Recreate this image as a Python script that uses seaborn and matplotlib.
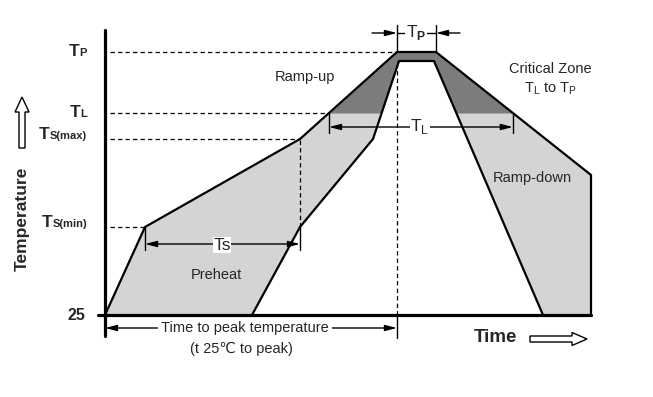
import numpy as np
import matplotlib
matplotlib.use("Agg")
import matplotlib.pyplot as plt
import seaborn as sns

# reflow profile outline (time and temperature in drawing units)
outer_time = [0, 40, 195, 292, 331, 486, 486]
outer_temp = [25, 113, 201, 288, 288, 165, 25]
inner_time = [147, 195, 268, 294, 329, 438]
inner_temp = [25, 113, 201, 279, 279, 25]

# temperature levels on the axis
T25, TS_MIN, TS_MAX, TL, TP = 25, 113, 201, 227, 288
level_subs = ['P', 'L', 'S(max)', 'S(min)']
level_temps = [TP, TL, TS_MAX, TS_MIN]
label_base = [284, 223, 201, 113]

sns.set_style("white")
plt.rcParams['font.family'] = ['Liberation Sans', 'DejaVu Sans']
plt.rcParams['mathtext.fontset'] = 'custom'
plt.rcParams['mathtext.rm'] = 'Liberation Sans'
plt.rcParams['mathtext.bf'] = 'Liberation Sans:bold'

fig = plt.figure(figsize=(6.53, 3.97), dpi=100)
ax = fig.add_axes([0, 0, 1, 1])
ax.set_xlim(-105, 548)
ax.set_ylim(-57, 340)
ax.axis('off')

# light gray band between the two profiles
poly_t = np.r_[outer_time, inner_time[::-1]]
poly_T = np.r_[outer_temp, inner_temp[::-1]]
ax.fill(poly_t, poly_T, color='#d4d4d4', lw=0, zorder=1)

# critical zone above TL
t = np.linspace(0, outer_time[-1], 4000)
upper = np.interp(t, outer_time[:-1], outer_temp[:-1])
lower = np.interp(t, inner_time, inner_temp, left=T25, right=T25)
ax.fill_between(t, np.maximum(lower, TL), upper, where=upper > TL,
                interpolate=True, color='#7c7c7c', lw=0, zorder=2)

# profile lines
sns.lineplot(x=outer_time, y=outer_temp, sort=False, estimator=None,
             color='black', lw=1.6, ax=ax, zorder=4)
sns.lineplot(x=inner_time, y=inner_temp, sort=False, estimator=None,
             color='black', lw=1.6, ax=ax, zorder=4)

# axes
ax.plot([0, 0], [4, 310], color='black', lw=2.3, zorder=5)
ax.plot([-7, outer_time[-1]], [T25, T25], color='black', lw=2.3, zorder=5)

# dashed guide lines
dash = dict(color='black', lw=0.9, ls=(0, (3.5, 2.5)), zorder=3)
t_tl_left = np.interp(TL, outer_temp[:4], outer_time[:4])
t_tl_right = np.interp(TL, outer_temp[4:6][::-1], outer_time[4:6][::-1])
ax.plot([5, outer_time[3]], [TP, TP], **dash)
ax.plot([5, t_tl_left], [TL, TL], **dash)
ax.plot([5, outer_time[2]], [TS_MAX, TS_MAX], **dash)
ax.plot([5, outer_time[1]], [TS_MIN, TS_MIN], **dash)
ax.plot([outer_time[2]] * 2, [TS_MIN, TS_MAX], **dash)
ax.plot([outer_time[3]] * 2, [T25, inner_temp[3]], **dash)

# level labels
for sub, base in zip(level_subs, label_base):
    st = ax.text(-18, base, sub, ha='right', va='baseline',
                 fontsize=8, weight='bold')
    ax.annotate('T', xy=(0, base), xycoords=(st, 'data'), ha='right',
                va='baseline', fontsize=12.5, weight='bold')
ax.text(-20, T25, '25', ha='right', va='center', fontsize=11.5, weight='bold')

ax.text(-83, 121, 'Temperature', rotation=90, ha='center', va='center',
        fontsize=12.5, weight='bold')
ax.arrow(-83, 192, 0, 51, width=6, head_width=14, head_length=15,
         length_includes_head=True, fc='white', ec='black', lw=1, zorder=5)
ax.text(390, 2, 'Time', ha='center', va='center', fontsize=13.5, weight='bold')
ax.arrow(425, 1, 57, 0, width=6, head_width=13, head_length=15,
         length_includes_head=True, fc='white', ec='black', lw=1, zorder=5)

# dimension arrows
solid = dict(color='black', lw=1, zorder=5)
head = dict(arrowstyle='<|-|>,head_length=0.7,head_width=0.18',
            color='black', lw=1, shrinkA=0, shrinkB=0)
one_head = dict(arrowstyle='-|>,head_length=0.7,head_width=0.18',
                color='black', lw=1, shrinkA=0, shrinkB=0)
white = dict(fc='white', ec='none', pad=0.5)

# Ts
ax.plot([outer_time[1]] * 2, [TS_MIN, 90], **solid)
ax.plot([outer_time[2]] * 2, [TS_MIN, 90], **solid)
ax.annotate('', xy=(outer_time[1], 96), xytext=(outer_time[2], 96),
            arrowprops=head, zorder=5)
ax.text(117, 95, 'Ts', ha='center', va='center', fontsize=12.5,
        bbox=white, zorder=6)

# TL
ax.plot([t_tl_left] * 2, [TL, 207], **solid)
ax.plot([t_tl_right] * 2, [TL, 207], **solid)
ax.annotate('', xy=(t_tl_left, 213), xytext=(t_tl_right, 213),
            arrowprops=head, zorder=5)
ax.text(315, 213, r'T$_{\mathrm{L}}$', ha='center', va='center',
        fontsize=12.5, bbox=white, zorder=6)

# TP
ax.plot([outer_time[3]] * 2, [TP, 315], **solid)
ax.plot([outer_time[4]] * 2, [TP, 315], **solid)
ax.plot([outer_time[3], outer_time[4]], [307, 307], **solid)
ax.annotate('', xy=(outer_time[3], 307), xytext=(267, 307),
            arrowprops=one_head, zorder=5)
ax.annotate('', xy=(outer_time[4], 307), xytext=(355, 307),
            arrowprops=one_head, zorder=5)
ax.text(311, 307, r'T$_{\mathbf{P}}$', ha='center', va='center',
        fontsize=12.5, bbox=white, zorder=6)

# time to peak
ax.plot([outer_time[3]] * 2, [T25, 2], **solid)
ax.annotate('', xy=(0, 12), xytext=(outer_time[3], 12),
            arrowprops=head, zorder=5)
ax.text(140, 12, 'Time to peak temperature', ha='center', va='center',
        fontsize=10.5, bbox=dict(fc='white', ec='none', pad=2), zorder=6)
ax.text(136, -9, '(t 25\u2103 to peak)', ha='center', va='center',
        fontsize=10.5)

# zone labels
ax.text(200, 263, 'Ramp-up', ha='center', va='center', fontsize=10.5)
ax.text(445, 271, 'Critical Zone', ha='center', va='center', fontsize=10.5)
ax.text(445, 251, r'T$_{\mathrm{L}}$ to T$_{\mathrm{P}}$', ha='center',
        va='center', fontsize=10.5)
ax.text(427, 162, 'Ramp-down', ha='center', va='center', fontsize=10.5)
ax.text(111, 65, 'Preheat', ha='center', va='center', fontsize=10.5)

fig.savefig('out.png', dpi=100)
